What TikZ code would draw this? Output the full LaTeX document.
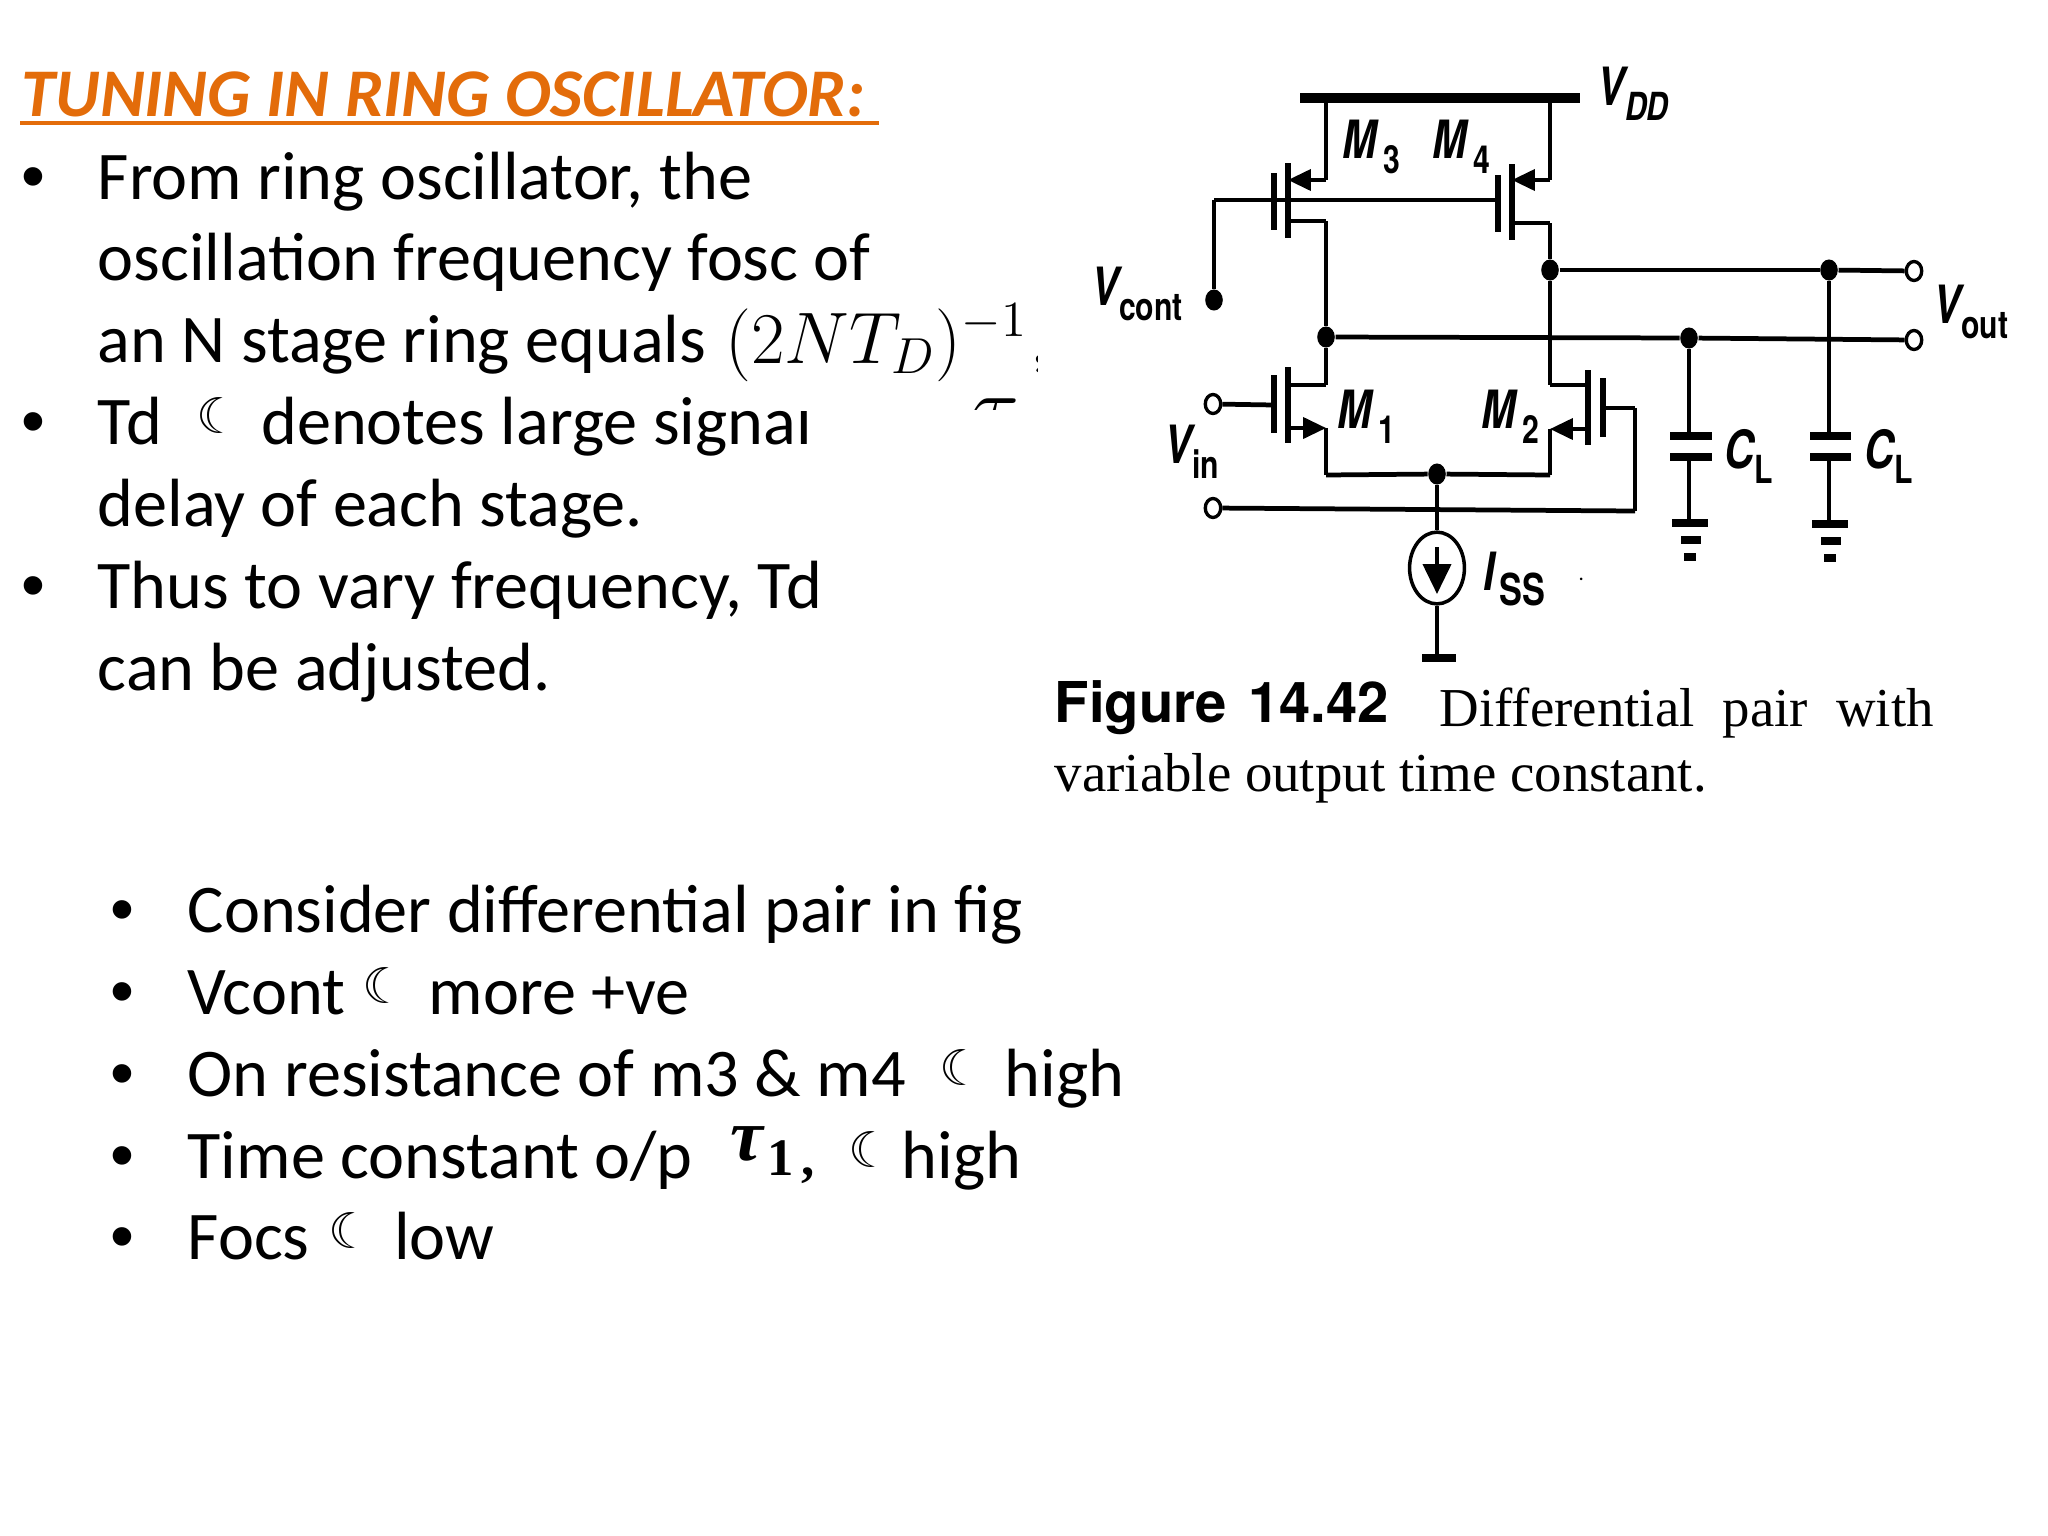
\documentclass[tikz,border=0pt]{standalone}
\usepackage[no-math]{fontspec}
\usetikzlibrary{arrows.meta,shapes.geometric}
\setmainfont{Carlito}
\newfontfamily\heros{TeX Gyre Heros}
\newfontfamily\capserif{Liberation Serif}
\newfontfamily\dejavu{DejaVu Sans}
\newfontfamily\bulletfont{Liberation Sans}
\definecolor{titleorange}{HTML}{E36C0A}
\newcommand{\moonface}{\raisebox{3pt}{\fontsize{14}{14}\dejavu\symbol{"263E}}}
\newcommand{\cirlab}[3]{\scalebox{0.78}[1]{\fontsize{15}{15}\heros\bfseries\itshape #1\raisebox{-4.5pt}{\fontsize{11}{11}\selectfont#2{#3}}}}
\tikzset{
  slidetext/.style={anchor=base west,inner sep=0pt,font=\fontsize{19.4}{22}\selectfont},
  bulletdot/.style={anchor=base west,inner sep=0pt,font=\bulletfont\fontsize{19.4}{22}\selectfont},
  wire/.style={line width=0.95pt},
  hwire/.style={line width=1.35pt},
  plate/.style={line width=1.7pt},
  capplate/.style={line width=2.4pt},
  srcarrow/.style={wire,-{Triangle[length=6.5pt,width=6pt]}},
  dot/.style={ellipse,fill=black,inner sep=0pt,minimum width=5pt,minimum height=6pt},
  port/.style={ellipse,draw,fill=white,line width=0.95pt,inner sep=0pt,minimum width=4.4pt,minimum height=5.4pt},
  cirtext/.style={anchor=base west,inner sep=0pt}
}
\begin{document}
\begin{tikzpicture}[x=0.01cm,y=-0.01cm]
  \fill[white] (0,0) rectangle (2048,1536);

  % Upper text
  \node[slidetext,font=\fontsize{19.4}{22}\bfseries\itshape\selectfont,text=titleorange] (title) at (21,116) {TUNING IN RING OSCILLATOR:};
  \coordinate (ulstart) at (20,123);
  \coordinate (ulend) at (879,123);
  \draw[titleorange,line width=0.9pt] (ulstart) -- (ulend);
  \node[bulletdot] (bulleta) at (21,199) {•};
  \node[slidetext] (linea) at (97,199) {From ring oscillator, the};
  \node[slidetext] (lineb) at (97,280) {oscillation frequency fosc of};
  \node[slidetext] (linec) at (97,362) {an N stage ring equals};
  \node[slidetext,font=\fontsize{20.4}{22}\selectfont] (ringfreq) at (725,363) {$(2NT_D)^{-1}$\hspace{1pt},};
  \node[bulletdot] (bulletb) at (21,444) {•};
  \node[slidetext] (lined) at (97,444) {Td\hspace{9.7pt}\moonface\hspace{6pt}denotes large signal};
  \node[slidetext,font=\fontsize{24}{24}\selectfont] (tdcut) at (972,436) {$\tau$};
  \fill[white] (1038,340) rectangle (1070,385);
  \fill[white] (797,385) rectangle (815,411);
  \fill[white] (960,410) rectangle (1040,450);
  \node[slidetext] (linee) at (97,526) {delay of each stage.};
  \node[bulletdot] (bulletc) at (21,608) {•};
  \node[slidetext] (linef) at (97,608) {Thus to vary frequency, Td};
  \node[slidetext] (lineg) at (97,690) {can be adjusted.};

  % Lower text
  \node[bulletdot] (bulletd) at (110,932) {•};
  \node[slidetext] (lineh) at (187,932) {Consider differential pair in fig};
  \node[bulletdot] (bullete) at (110,1014) {•};
  \node[slidetext] (linei) at (187,1014) {Vcont\hspace{5pt}\moonface\hspace{6.2pt}more +ve};
  \node[bulletdot] (bulletf) at (110,1096) {•};
  \node[slidetext] (linej) at (187,1096) {On resistance of m3 \& m4\hspace{9.6pt}\moonface\hspace{6pt}high};
  \node[bulletdot] (bulletg) at (110,1178) {•};
  \node[slidetext] (linek) at (187,1178) {Time constant o/p};
  \node[cirtext,font=\capserif\bfseries\itshape\fontsize{21}{21}\selectfont] (tauone) at (730,1160) {τ};
  \node[cirtext,font=\capserif\bfseries\fontsize{15}{15}\selectfont] (tauidx) at (767,1175) {1\hspace{2pt},};
  \node[slidetext] (linel) at (848,1178) {\moonface\hspace{2.5pt}high};
  \node[bulletdot] (bulleth) at (110,1259) {•};
  \node[slidetext] (linem) at (187,1259) {Focs\hspace{5.5pt}\moonface\hspace{6pt}low};

  % Transistors
  \draw[line width=2.6pt] (1300,98) coordinate (vddl) -- (1580,98) coordinate (vddr);
  \draw[plate] (1288,163) -- (1288,238);
  \draw[plate] (1274,173) -- (1274,230);
  \draw[plate] (1512,164) -- (1512,240);
  \draw[plate] (1498,175) -- (1498,232);
  \draw[plate] (1288,367) -- (1288,443);
  \draw[plate] (1274,375) -- (1274,433);
  \draw[plate] (1588,370) -- (1588,445);
  \draw[plate] (1603,378) -- (1603,437);

  % Junctions
  \coordinate (mthree) at (1326,98);
  \coordinate (mthrees) at (1326,180);
  \coordinate (mthreeh) at (1288,180);
  \coordinate (mfour) at (1550,98);
  \coordinate (mfours) at (1550,180);
  \coordinate (mfourh) at (1512,180);
  \coordinate (gatel) at (1214,200);
  \coordinate (gater) at (1498,200);
  \coordinate (mthreed) at (1326,221);
  \coordinate (mthreedh) at (1288,221);
  \coordinate (mfourd) at (1550,223);
  \coordinate (mfourdh) at (1512,223);
  \coordinate (moned) at (1326,385);
  \coordinate (monedh) at (1288,385);
  \coordinate (mtwod) at (1550,385);
  \coordinate (mtwodh) at (1588,385);
  \coordinate (mones) at (1326,428);
  \coordinate (monesh) at (1288,428);
  \coordinate (mtwos) at (1550,429);
  \coordinate (mtwosh) at (1588,429);
  \coordinate (tailb) at (1326,475);
  \coordinate (tailc) at (1550,475);
  \coordinate (gateone) at (1274,405);
  \coordinate (gatetwo) at (1603,408);
  \coordinate (gatetwob) at (1635,408);
  \coordinate (gatetwoc) at (1635,511);

  \node[dot] (nodep) at (1550,270) {};
  \node[dot] (nodepb) at (1829,270) {};
  \node[dot] (noden) at (1326,337) {};
  \node[dot] (nodenb) at (1689,338) {};
  \node[dot] (tail) at (1437,474) {};
  \node[dot] (vcontpin) at (1214,300) {};
  \node[port] (outp) at (1914,271) {};
  \node[port] (outn) at (1914,340) {};
  \node[port] (vinp) at (1213,404) {};
  \node[port] (vinn) at (1213,508) {};
  \node[ellipse,draw,line width=1pt,inner sep=0pt,minimum width=15.6pt,minimum height=20.4pt] (iss) at (1437,568) {};

  % Connections
  \draw[wire] (mthree) -- (mthrees);
  \draw[srcarrow] (mthrees) -- (mthreeh);
  \draw[wire] (mfour) -- (mfours);
  \draw[srcarrow] (mfours) -- (mfourh);
  \draw[hwire] (gatel) -- (gater);
  \draw[wire] (vcontpin) -- (gatel);
  \draw[hwire] (mthreedh) -- (mthreed);
  \draw[wire] (mthreed) -- (noden);
  \draw[wire] (noden) -- (moned);
  \draw[hwire] (monedh) -- (moned);
  \draw[hwire] (mfourdh) -- (mfourd);
  \draw[wire] (mfourd) -- (nodep);
  \draw[wire] (nodep) -- (mtwod);
  \draw[hwire] (mtwodh) -- (mtwod);
  \draw[hwire] (nodep) -- (nodepb);
  \draw[hwire] (nodepb) -- (outp);
  \draw[hwire] (noden) -- (nodenb);
  \draw[hwire] (nodenb) -- (outn);
  \draw[wire] (nodepb) -- (1829,436);
  \draw[wire] (nodenb) -- (1689,436);
  \draw[hwire] (vinp) -- (gateone);
  \draw[srcarrow] (monesh) -- (mones);
  \draw[srcarrow] (mtwosh) -- (mtwos);
  \draw[wire] (mones) -- (tailb);
  \draw[wire] (mtwos) -- (tailc);
  \draw[hwire] (tailb) -- (tail);
  \draw[hwire] (tail) -- (tailc);
  \draw[hwire] (gatetwo) -- (gatetwob);
  \draw[wire] (gatetwob) -- (gatetwoc);
  \draw[hwire] (vinn) -- (gatetwoc);
  \draw[wire] (tail) -- (iss);
  \draw[wire] (iss) -- (1437,658);
  \draw[wire,-{Triangle[length=8.5pt,width=8pt]}] (1437,547) -- (1437,594);

  % Load capacitors and grounds
  \draw[capplate] (1670,436) -- (1712,436);
  \draw[capplate] (1670,457) -- (1712,457);
  \draw[capplate] (1810,436) -- (1851,436);
  \draw[capplate] (1810,457) -- (1851,457);
  \draw[wire] (1689,457) -- (1689,520);
  \draw[wire] (1829,457) -- (1829,520);
  \draw[capplate] (1672,523) -- (1708,523);
  \draw[capplate] (1681,540) -- (1701,540);
  \draw[capplate] (1684,557) -- (1696,557);
  \draw[capplate] (1812,524) -- (1848,524);
  \draw[capplate] (1821,541) -- (1841,541);
  \draw[capplate] (1824,558) -- (1836,558);
  \draw[capplate] (1422,658) -- (1456,658);

  % Labels
  \node[cirtext] (vddlab) at (1597,105) {\cirlab{V}{}{DD}};
  \node[cirtext] (mthreelab) at (1342,158) {\cirlab{M}{\upshape\hspace{2.5pt}}{3}};
  \node[cirtext] (mfourlab) at (1432,158) {\cirlab{M}{\upshape\hspace{2.5pt}}{4}};
  \node[cirtext] (vcontlab) at (1091,305) {\cirlab{V}{\upshape}{cont}};
  \node[cirtext] (voutlab) at (1933,323) {\cirlab{V}{\upshape}{out}};
  \node[cirtext] (mone) at (1337,428) {\cirlab{M}{\upshape\hspace{2.5pt}}{1}};
  \node[cirtext] (mtwo) at (1481,428) {\cirlab{M}{\upshape\hspace{2.5pt}}{2}};
  \node[cirtext] (vinlab) at (1164,463) {\cirlab{V}{\upshape}{in}};
  \node[cirtext] (cla) at (1724,468) {\cirlab{C}{\upshape}{L}};
  \node[cirtext] (clb) at (1864,468) {\cirlab{C}{\upshape}{L}};
  \node[cirtext] (isslab) at (1483,590) {\cirlab{I}{\upshape\hspace{1.5pt}\fontsize{12.5}{12.5}\selectfont}{SS}};
  \node[cirtext,font=\fontsize{6}{6}\selectfont] (speck) at (1578,580) {.};

  % Caption
  \node[cirtext,font=\heros\bfseries\fontsize{16}{16}\selectfont] (figno) at (1054,722) {Figure\hspace{6pt}14.42};
  \node[cirtext,font=\capserif\fontsize{15.6}{15.6}\selectfont] (capa) at (1439,726) {Differential\hspace{8pt}pair\hspace{8pt}with};
  \node[cirtext,font=\capserif\fontsize{15.6}{15.6}\selectfont] (capb) at (1054,791) {variable output time constant.};
\end{tikzpicture}
\end{document}
